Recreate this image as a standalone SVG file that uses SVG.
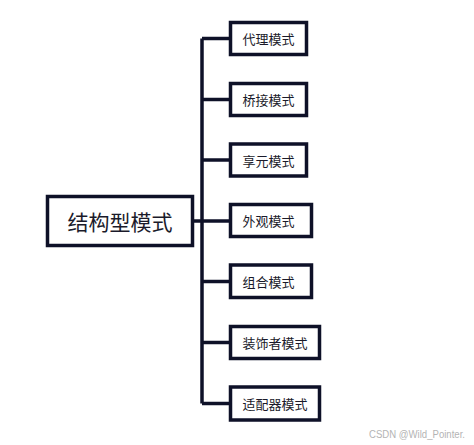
<svg xmlns="http://www.w3.org/2000/svg" width="474" height="445" viewBox="0 0 474 445">
<style>
.box{fill:#ffffff;stroke:#0e1128;stroke-width:3.5}
.lbl{font-family:"Noto Sans CJK SC","Noto Sans",sans-serif;font-size:13px;fill:#1a1a2a;text-anchor:middle;dominant-baseline:central}
.main{font-family:"Noto Sans CJK SC","Noto Sans",sans-serif;font-size:21px;fill:#1a1a2a;text-anchor:middle;dominant-baseline:central}
.con{stroke:#0e1128;stroke-width:3.5;fill:none}
.wm{font-family:"Liberation Sans",Arial,sans-serif;font-size:10px;fill:#b4b4b4}
</style>
<rect width="474" height="445" fill="#ffffff"/>
<g id="connectors">
<line class="con" x1="202" y1="38.5" x2="202" y2="403.5"/>
<line class="con" x1="193" y1="221" x2="202" y2="221"/>
<line class="con" x1="202" y1="38.5" x2="230" y2="38.5"/>
<line class="con" x1="202" y1="99.5" x2="230" y2="99.5"/>
<line class="con" x1="202" y1="160" x2="230" y2="160"/>
<line class="con" x1="202" y1="221" x2="230" y2="221"/>
<line class="con" x1="202" y1="281.5" x2="230" y2="281.5"/>
<line class="con" x1="202" y1="342.5" x2="230" y2="342.5"/>
<line class="con" x1="202" y1="403.5" x2="230" y2="403.5"/>
</g>
<g id="root">
<rect class="box" x="47.5" y="196.5" width="145" height="49"/>
<text class="main" x="120" y="221">结构型模式</text>
</g>
<g id="n1">
<rect class="box" x="230.5" y="22.5" width="76" height="32"/>
<text class="lbl" x="268.5" y="38.5">代理模式</text>
</g>
<g id="n2">
<rect class="box" x="230.5" y="83.5" width="76" height="32"/>
<text class="lbl" x="268.5" y="99.5">桥接模式</text>
</g>
<g id="n3">
<rect class="box" x="230.5" y="144" width="76" height="32"/>
<text class="lbl" x="268.5" y="160">享元模式</text>
</g>
<g id="n4">
<rect class="box" x="230.5" y="204.5" width="81" height="32"/>
<text class="lbl" x="268.5" y="220.5">外观模式</text>
</g>
<g id="n5">
<rect class="box" x="230.5" y="265" width="81" height="32.5"/>
<text class="lbl" x="268.5" y="281.5">组合模式</text>
</g>
<g id="n6">
<rect class="box" x="230.5" y="326.5" width="89" height="32"/>
<text class="lbl" x="275" y="342.5">装饰者模式</text>
</g>
<g id="n7">
<rect class="box" x="230.5" y="387" width="89" height="33"/>
<text class="lbl" x="275" y="403.5">适配器模式</text>
</g>
<text class="wm" x="369" y="438" textLength="96" lengthAdjust="spacingAndGlyphs">CSDN @Wild_Pointer.</text>
</svg>
